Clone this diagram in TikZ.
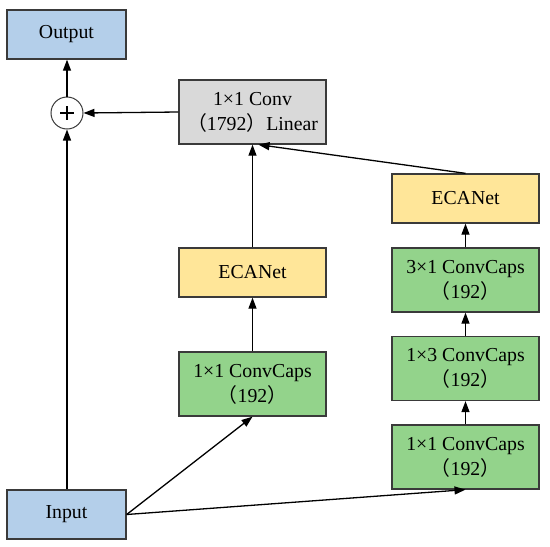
\documentclass[tikz,border=0pt]{standalone}
\usepackage{fontspec}
\setmainfont{Liberation Serif}
\newfontfamily\cjk{Noto Sans CJK SC}
\usetikzlibrary{arrows.meta,calc}
\definecolor{boxblue}{HTML}{B4CFEA}
\definecolor{boxgray}{HTML}{D9D9D9}
\definecolor{boxyellow}{HTML}{FFE699}
\definecolor{boxgreen}{HTML}{93D38B}
\definecolor{edge}{HTML}{3A3A3A}
\newcommand{\lp}{{\cjk （}}
\newcommand{\rp}{{\cjk ）}}
\tikzset{
  blk/.style={draw=edge, line width=1.3pt, rectangle, inner sep=0pt, align=center,
    font=\fontsize{19.8}{25}\selectfont},
  wide/.style={blk, minimum width=147pt},
  io/.style={blk, fill=boxblue, minimum width=119pt, minimum height=49pt},
  convbox/.style={wide, fill=boxgray, minimum height=64pt},
  ecabox/.style={wide, fill=boxyellow, minimum height=49pt},
  capsbox/.style={wide, fill=boxgreen, minimum height=64pt},
  arr/.style={line width=1.3pt, -{Triangle[length=11pt,width=8pt]}}
}
\begin{document}
\begin{tikzpicture}[x=1pt,y=-1pt]
\useasboundingbox (0,0) rectangle (550,547);
\node[io] (out) at (66.5,34.5) {Output};
\node[draw=edge, line width=1pt, circle, minimum size=32pt, inner sep=0pt, fill=white] (plus) at (67,113) {};
\draw[line width=1.6pt] ($(plus.center)+(-7,0)$) -- ($(plus.center)+(7,0)$);
\draw[line width=1.6pt] ($(plus.center)+(0,-7)$) -- ($(plus.center)+(0,7)$);
\node[convbox] (conv) at (252.5,112) {1×1 Conv\\\lp1792\rp Linear};
\node[ecabox] (ecaL) at (252.5,272.5) {ECANet};
\node[capsbox] (capsL) at (252.5,384) {1×1 ConvCaps\\\lp192\rp};
\node[ecabox] (ecaR) at (465.5,198.5) {ECANet};
\node[capsbox] (c31) at (465.5,280) {3×1 ConvCaps\\\lp192\rp};
\node[capsbox] (c13) at (465.5,368.5) {1×3 ConvCaps\\\lp192\rp};
\node[capsbox] (c11) at (465.5,457) {1×1 ConvCaps\\\lp192\rp};
\node[io] (in) at (66.5,514.5) {Input};
\coordinate (convin) at ($(conv.south)+(6,0)$);
\draw[arr] (in.north -| plus.south) -- (plus.south);
\draw[arr] (plus.north) -- (out.south -| plus.north);
\draw[arr] (conv.west) -- (plus.east);
\draw[arr] (ecaL.north) -- (conv.south);
\draw[arr] (ecaR.north) -- (convin);
\draw[arr] (capsL.north) -- (ecaL.south);
\draw[arr] (c31.north) -- (ecaR.south);
\draw[arr] (c13.north) -- (c31.south);
\draw[arr] (c11.north) -- (c13.south);
\draw[arr] (in.east) -- (capsL.south);
\draw[arr] (in.east) -- (c11.south);
\end{tikzpicture}
\end{document}
